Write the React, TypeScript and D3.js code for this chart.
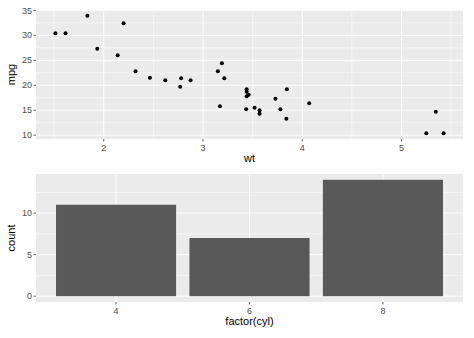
import React from "react";
import * as d3 from "d3";

const wt = [2.62, 2.875, 2.32, 3.215, 3.44, 3.46, 3.57, 3.19, 3.15, 3.44, 3.44, 4.07, 3.73, 3.78, 5.25, 5.424, 5.345, 2.2, 1.615, 1.835, 2.465, 3.52, 3.435, 3.84, 3.845, 1.935, 2.14, 1.513, 3.17, 2.77, 3.57, 2.78];
const mpg = [21.0, 21.0, 22.8, 21.4, 18.7, 18.1, 14.3, 24.4, 22.8, 19.2, 17.8, 16.4, 17.3, 15.2, 10.4, 10.4, 14.7, 32.4, 30.4, 33.9, 21.5, 15.5, 15.2, 13.3, 19.2, 27.3, 26.0, 30.4, 15.8, 19.7, 15.0, 21.4];
const cylCats = ["4", "6", "8"];
const cylCounts = [11, 7, 14];
const wtTicks = [2, 3, 4, 5];
const wtMinor = [1.5, 2.5, 3.5, 4.5, 5.5];
const mpgTicks = [10, 15, 20, 25, 30, 35];
const mpgMinor = [12.5, 17.5, 22.5, 27.5, 32.5];
const countTicks = [0, 5, 10];
const countMinor = [2.5, 7.5, 12.5];

const FONT = "'Liberation Sans', Arial, sans-serif";
const BG = "#EBEBEB";
const TXT = "#4D4D4D";

export default function App() {
  const left = 36, right = 463;
  // top panel
  const t0 = 10, t1 = 139;
  const wtExt = d3.extent(wt) as [number, number];
  const mpgExt = d3.extent(mpg) as [number, number];
  const wPad = (wtExt[1] - wtExt[0]) * 0.05;
  const mPad = (mpgExt[1] - mpgExt[0]) * 0.05;
  const x = d3.scaleLinear().domain([wtExt[0] - wPad, wtExt[1] + wPad]).range([left, right]);
  const y = d3.scaleLinear().domain([mpgExt[0] - mPad, mpgExt[1] + mPad]).range([t1, t0]);

  // bottom panel
  const b0 = 174, b1 = 302;
  const maxC = d3.max(cylCounts) as number;
  const yc = d3.scaleLinear().domain([-maxC * 0.05, maxC * 1.05]).range([b1, b0]);
  const xb = d3.scaleBand().domain(cylCats).range([left, right]).paddingInner(0.1 / 0.9 * 0 + 0.1).paddingOuter(0.6 - 0.05);
  // compute discrete positions: continuous range 0.4..3.6
  const xd = d3.scaleLinear().domain([0.4, 3.6]).range([left, right]);
  const barW = xd(1.45) - xd(1);

  return (
    <svg width={474} height={338} style={{ display: "block", position: "absolute", left: 0, top: 0, background: "white" }}>
      {/* Top panel */}
      <rect x={left} y={t0} width={right - left} height={t1 - t0} fill={BG} />
      {mpgMinor.map((v) => (
        <line key={"ym" + v} x1={left} x2={right} y1={y(v)} y2={y(v)} stroke="white" strokeWidth={0.5} />
      ))}
      {wtMinor.map((v) => (
        <line key={"xm" + v} x1={x(v)} x2={x(v)} y1={t0} y2={t1} stroke="white" strokeWidth={0.5} />
      ))}
      {mpgTicks.map((v) => (
        <line key={"yg" + v} x1={left} x2={right} y1={y(v)} y2={y(v)} stroke="white" strokeWidth={1} />
      ))}
      {wtTicks.map((v) => (
        <line key={"xg" + v} x1={x(v)} x2={x(v)} y1={t0} y2={t1} stroke="white" strokeWidth={1} />
      ))}
      {wt.map((w, i) => (
        <circle key={"p" + i} cx={x(w)} cy={y(mpg[i])} r={2} fill="black" />
      ))}
      {mpgTicks.map((v) => (
        <g key={"yt" + v}>
          <line x1={left - 2.5} x2={left} y1={y(v)} y2={y(v)} stroke="#333" strokeWidth={0.8} />
          <text x={left - 4} y={y(v)} dy="0.35em" textAnchor="end" fontSize={9} fill={TXT} fontFamily={FONT}>{v}</text>
        </g>
      ))}
      {wtTicks.map((v) => (
        <g key={"xt" + v}>
          <line x1={x(v)} x2={x(v)} y1={t1} y2={t1 + 2.5} stroke="#333" strokeWidth={0.8} />
          <text x={x(v)} y={t1 + 12} textAnchor="middle" fontSize={9} fill={TXT} fontFamily={FONT}>{v}</text>
        </g>
      ))}
      <text x={(left + right) / 2} y={162} textAnchor="middle" fontSize={11} fill="black" fontFamily={FONT}>wt</text>
      <text transform={`translate(15,${(t0 + t1) / 2}) rotate(-90)`} textAnchor="middle" fontSize={11} fill="black" fontFamily={FONT}>mpg</text>

      {/* Bottom panel */}
      <rect x={left} y={b0} width={right - left} height={b1 - b0} fill={BG} />
      {countMinor.map((v) => (
        <line key={"cm" + v} x1={left} x2={right} y1={yc(v)} y2={yc(v)} stroke="white" strokeWidth={0.5} />
      ))}
      {countTicks.map((v) => (
        <line key={"cg" + v} x1={left} x2={right} y1={yc(v)} y2={yc(v)} stroke="white" strokeWidth={1} />
      ))}
      {cylCats.map((c, i) => (
        <line key={"bg" + c} x1={xd(i + 1)} x2={xd(i + 1)} y1={b0} y2={b1} stroke="white" strokeWidth={1} />
      ))}
      {cylCats.map((c, i) => (
        <rect key={"bar" + c} x={xd(i + 1) - barW} width={barW * 2} y={yc(cylCounts[i])} height={yc(0) - yc(cylCounts[i])} fill="#595959" />
      ))}
      {countTicks.map((v) => (
        <g key={"ct" + v}>
          <line x1={left - 2.5} x2={left} y1={yc(v)} y2={yc(v)} stroke="#333" strokeWidth={0.8} />
          <text x={left - 4} y={yc(v)} dy="0.35em" textAnchor="end" fontSize={9} fill={TXT} fontFamily={FONT}>{v}</text>
        </g>
      ))}
      {cylCats.map((c, i) => (
        <g key={"bt" + c}>
          <line x1={xd(i + 1)} x2={xd(i + 1)} y1={b1} y2={b1 + 2.5} stroke="#333" strokeWidth={0.8} />
          <text x={xd(i + 1)} y={b1 + 12} textAnchor="middle" fontSize={9} fill={TXT} fontFamily={FONT}>{c}</text>
        </g>
      ))}
      <text x={(left + right) / 2} y={325} textAnchor="middle" fontSize={11} fill="black" fontFamily={FONT}>factor(cyl)</text>
      <text transform={`translate(15,${(b0 + b1) / 2}) rotate(-90)`} textAnchor="middle" fontSize={11} fill="black" fontFamily={FONT}>count</text>
    </svg>
  );
}
